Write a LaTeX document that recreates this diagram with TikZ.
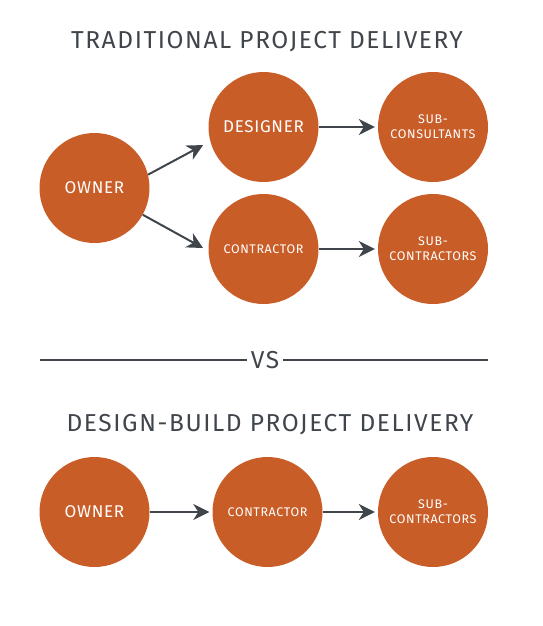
\documentclass[tikz,border=0pt]{standalone}
\usepackage{fontspec}
\setmainfont{Fira Sans}
\usetikzlibrary{arrows.meta}
\definecolor{rust}{HTML}{C95D28}
\definecolor{slate}{HTML}{40454C}

\begin{document}
\begin{tikzpicture}[x = 1pt, y = -1pt,
	disc/.style = {circle, fill = rust, minimum size = 110pt, inner sep = 0pt, text = white, align = center, font = \fontsize{12.5}{15}\selectfont\addfontfeature{LetterSpace=5}},
	big/.style = {font = \fontsize{17}{20}\selectfont\addfontfeature{LetterSpace=4}},
	flow/.style = {draw = slate, line width = 2pt, -{Stealth[length = 16pt, width = 16pt, inset = 5pt]}},
	heading/.style = {text = slate, inner sep = 0pt, font = \fontsize{24.5}{28}\selectfont\addfontfeature{LetterSpace=6.5}}]%对比图
	\useasboundingbox (0,0) rectangle (543,626);
	% traditional
	\node[heading] (T1) at (267,42) {TRADITIONAL PROJECT DELIVERY};
	\node[disc, big] (OW) at (94.5,188) {OWNER};
	\node[disc, big] (DE) at (263.5,127) {DESIGNER};
	\node[disc] (CO) at (263.5,249) {CONTRACTOR};
	\node[disc] (SC) at (433,127) {SUB-\\CONSULTANTS};
	\node[disc] (ST) at (433,249) {SUB-\\CONTRACTORS};
	\draw[flow, shorten >= 8pt] (OW.14) -- (DE.195);
	\draw[flow, shorten >= 6pt] (OW.-29) -- (CO.182);
	\draw[flow, shorten >= 3pt] (DE) -- (SC);
	\draw[flow, shorten >= 3pt] (CO) -- (ST);
	% vs
	\node[heading, inner xsep = 4pt] (VS) at (265,360) {VS};
	\coordinate (L) at (40,360);
	\coordinate (R) at (488,360);
	\draw[slate, line width = 1.5pt] (L) -- (VS) -- (R);
	% design-build
	\node[heading] (T2) at (270,425) {DESIGN-BUILD PROJECT DELIVERY};
	\node[disc, big] (OB) at (94.5,512) {OWNER};
	\node[disc] (CB) at (267.5,512) {CONTRACTOR};
	\node[disc] (SB) at (433,512) {SUB-\\CONTRACTORS};
	\draw[flow, shorten >= 3pt] (OB) -- (CB);
	\draw[flow, shorten >= 3pt] (CB) -- (SB);
\end{tikzpicture}
\end{document}
